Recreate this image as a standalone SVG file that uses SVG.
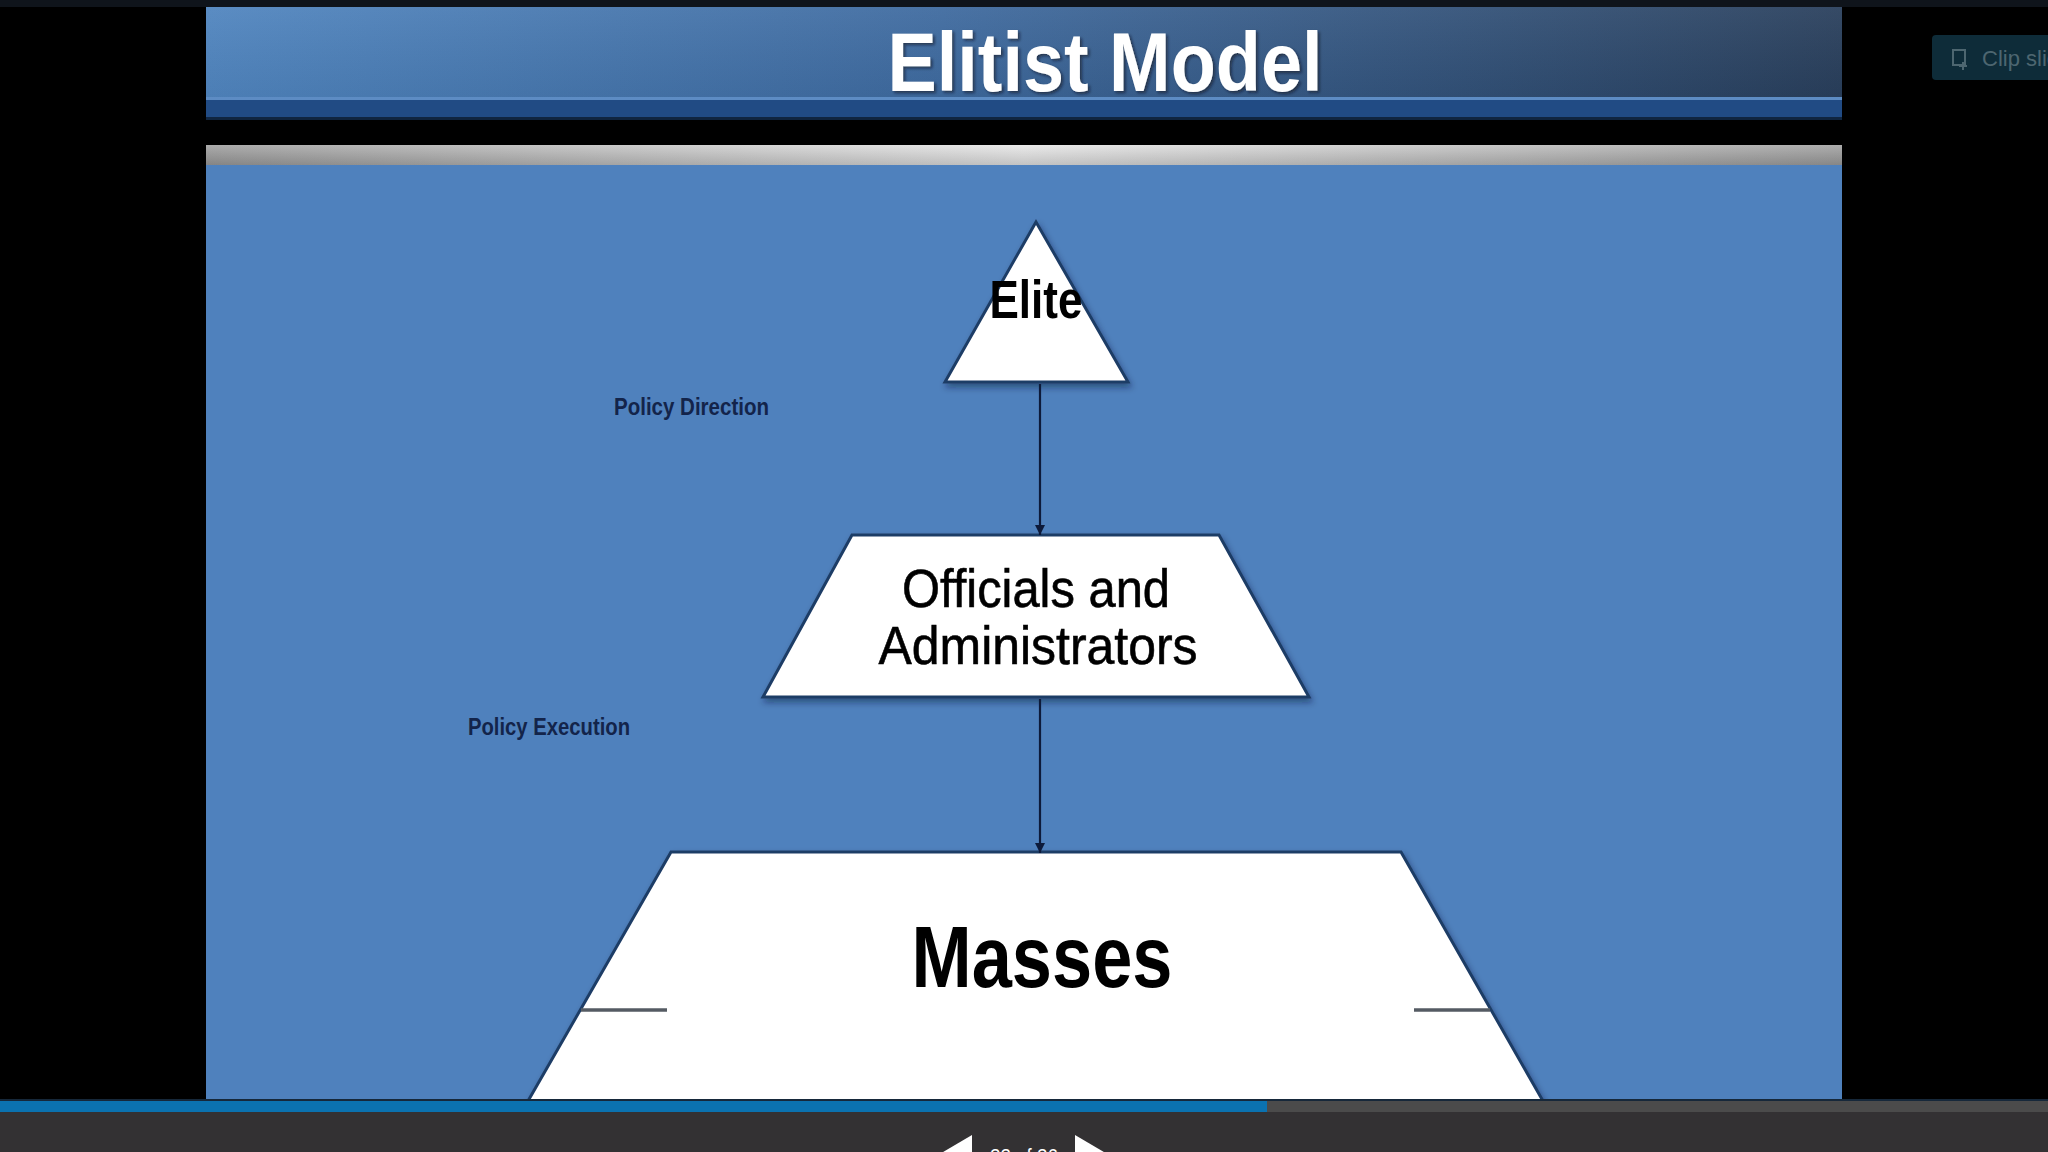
<svg xmlns="http://www.w3.org/2000/svg" width="2048" height="1152" viewBox="0 0 2048 1152">
  <defs>
    <linearGradient id="titleGrad" x1="206" y1="0" x2="1842" y2="0" gradientUnits="userSpaceOnUse">
      <stop offset="0" stop-color="#5085bf"/>
      <stop offset="0.45" stop-color="#3e6a9f"/>
      <stop offset="1" stop-color="#293f5c"/>
    </linearGradient>
    <linearGradient id="titleShade" x1="0" y1="7" x2="0" y2="98" gradientUnits="userSpaceOnUse">
      <stop offset="0" stop-color="#ffffff" stop-opacity="0.06"/>
      <stop offset="1" stop-color="#000000" stop-opacity="0.05"/>
    </linearGradient>
    <linearGradient id="grayGrad" x1="206" y1="0" x2="1842" y2="0" gradientUnits="userSpaceOnUse">
      <stop offset="0" stop-color="#9c9c9c"/>
      <stop offset="0.5" stop-color="#e6e6e6"/>
      <stop offset="1" stop-color="#9e9e9e"/>
    </linearGradient>
    <linearGradient id="grayV" x1="0" y1="145" x2="0" y2="165" gradientUnits="userSpaceOnUse">
      <stop offset="0" stop-color="#ffffff" stop-opacity="0.15"/>
      <stop offset="1" stop-color="#000000" stop-opacity="0.15"/>
    </linearGradient>
    <filter id="shadow" x="-10%" y="-10%" width="120%" height="130%">
      <feDropShadow dx="2" dy="4" stdDeviation="3" flood-color="#0b1a30" flood-opacity="0.45"/>
    </filter>
    <filter id="tshadow" x="-5%" y="-20%" width="110%" height="140%">
      <feDropShadow dx="2" dy="2" stdDeviation="1.5" flood-color="#0a1424" flood-opacity="0.6"/>
    </filter>
    <marker id="arrow" viewBox="0 0 10 10" refX="10" refY="5" markerWidth="10" markerHeight="10" markerUnits="userSpaceOnUse" orient="auto">
      <path d="M0,0 L10,5 L0,10 z" fill="#0d1a3a"/>
    </marker>
    <style>
      .shape { fill: #ffffff; stroke: #1f3c66; stroke-width: 3; stroke-linejoin: miter; }
      .lbl { font-family: "Liberation Sans", Arial, sans-serif; fill: #000000; text-anchor: middle; }
      .side { font-family: "Liberation Sans", Arial, sans-serif; font-weight: bold; font-size: 23px; fill: #13244a; }
      .conn { stroke: #0d1a3a; stroke-width: 2.2; fill: none; }
    </style>
  </defs>

  <!-- background -->
  <rect x="0" y="0" width="2048" height="1152" fill="#000000"/>
  <rect x="0" y="0" width="2048" height="7" fill="#0f141b"/>

  <!-- title bar -->
  <g id="title-bar">
    <rect x="206" y="7" width="1636" height="91" fill="url(#titleGrad)"/>
    <rect x="206" y="7" width="1636" height="91" fill="url(#titleShade)"/>
    <rect x="206" y="97" width="1636" height="3" fill="#5d8cc4"/>
    <rect x="206" y="100" width="1636" height="17" fill="#214b84"/>
    <rect x="206" y="117" width="1636" height="3" fill="#102540"/>
    <text x="1105" y="91" text-anchor="middle" font-family="Liberation Sans, Arial, sans-serif" font-weight="bold" font-size="84" fill="#ffffff" textLength="435" lengthAdjust="spacingAndGlyphs" filter="url(#tshadow)">Elitist Model</text>
  </g>

  <!-- gray strip -->
  <rect x="206" y="145" width="1636" height="20" fill="url(#grayGrad)"/>
  <rect x="206" y="145" width="1636" height="20" fill="url(#grayV)"/>

  <!-- content area -->
  <rect x="206" y="165" width="1636" height="936" fill="#4f81bd"/>

  <!-- clip slide button -->
  <g id="clip-button">
    <rect x="1932" y="35" width="140" height="45" rx="4" fill="#0e2c39"/>
    <rect x="1953" y="50" width="12" height="15" fill="none" stroke="#4d6670" stroke-width="2"/>
    <path d="M1963,62 v8 M1959,66 h8" stroke="#4d6670" stroke-width="2"/>
    <text x="1982" y="66" font-family="Liberation Sans, Arial, sans-serif" font-size="22" fill="#4d6670">Clip slide</text>
  </g>

  <!-- nodes -->
  <g id="node-elite">
    <polygon class="shape" points="1036,222 945,382 1128,382" filter="url(#shadow)"/>
    <text class="lbl" x="1036" y="318" font-size="53" font-weight="bold" textLength="93" lengthAdjust="spacingAndGlyphs">Elite</text>
  </g>

  <g id="node-officials">
    <polygon class="shape" points="852,535 1219,535 1309,697 763,697" filter="url(#shadow)"/>
    <text class="lbl" x="1036" y="607" font-size="54" stroke="#000" stroke-width="0.6" textLength="268" lengthAdjust="spacingAndGlyphs">Officials and</text>
    <text class="lbl" x="1038" y="664" font-size="54" stroke="#000" stroke-width="0.6" textLength="319" lengthAdjust="spacingAndGlyphs">Administrators</text>
  </g>

  <g id="node-masses">
    <polygon class="shape" points="671,852 1401,852 1543,1101 528,1101" filter="url(#shadow)"/>
    <line x1="581" y1="1010" x2="667" y2="1010" stroke="#555b63" stroke-width="3.5"/>
    <line x1="1414" y1="1010" x2="1490" y2="1010" stroke="#555b63" stroke-width="3.5"/>
    <text class="lbl" x="1042" y="987" font-size="87" font-weight="bold" textLength="261" lengthAdjust="spacingAndGlyphs">Masses</text>
  </g>

  <!-- connectors -->
  <g id="connectors">
    <line class="conn" x1="1040" y1="384" x2="1040" y2="535" marker-end="url(#arrow)"/>
    <line class="conn" x1="1040" y1="699" x2="1040" y2="853" marker-end="url(#arrow)"/>
    <text class="side" x="614" y="415" textLength="155" lengthAdjust="spacingAndGlyphs">Policy Direction</text>
    <text class="side" x="468" y="735" textLength="162" lengthAdjust="spacingAndGlyphs">Policy Execution</text>
  </g>

  <!-- player bar -->
  <g id="player-bar">
    <rect x="0" y="1099" width="2048" height="2" fill="#16283a"/>
    <rect x="0" y="1101" width="1267" height="11" fill="#0b72b0"/>
    <rect x="1267" y="1101" width="781" height="11" fill="#4b4b4b"/>
    <rect x="0" y="1112" width="2048" height="40" fill="#333133"/>
    <polygon points="972,1135 972,1175 938,1155" fill="#ffffff"/>
    <polygon points="1075,1135 1075,1175 1109,1155" fill="#ffffff"/>
    <text x="990" y="1163" font-family="Liberation Sans, Arial, sans-serif" font-size="21" fill="#ffffff" textLength="68" lengthAdjust="spacingAndGlyphs">22 of 26</text>
  </g>
</svg>
